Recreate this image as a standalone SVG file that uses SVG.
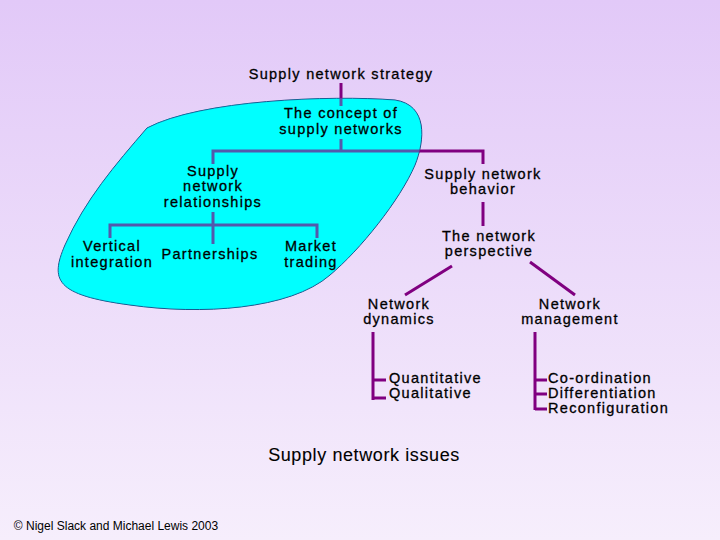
<svg xmlns="http://www.w3.org/2000/svg" width="720" height="540" viewBox="0 0 720 540">
<defs>
<linearGradient id="bg" x1="0" y1="0" x2="0" y2="1"><stop offset="0" stop-color="#e2c9f8"/><stop offset="1" stop-color="#f6eefc"/></linearGradient>
<path id="blobp" d="M147,128 C200,100 330,95 395,100 C428,105 425,140 415,165 C400,200 360,250 330,275 C290,310 200,315 130,305 C55,295 50,280 65,245 C85,200 115,165 147,128 Z"/>
</defs>
<style>
text{font-family:"Liberation Sans",Arial,sans-serif;font-size:14.5px;fill:#000;text-anchor:middle;letter-spacing:1.3px;stroke:#000;stroke-width:0.3}
.l{text-anchor:start}
line,path.c{stroke:#800080;stroke-width:3;fill:none}
</style>
<rect width="720" height="540" fill="url(#bg)"/>
<use id="blob" href="#blobp" fill="#00ffff" stroke="#1a3a7a" stroke-width="1"/>
<g id="connectors">
<line x1="341" y1="83" x2="341" y2="106"/>
<line x1="341" y1="139" x2="341" y2="152"/>
<path class="c" d="M213,164 V151 H483 V164"/>
<line x1="483" y1="202" x2="483" y2="226"/>
<line x1="213" y1="212" x2="213" y2="244"/>
<path class="c" d="M110,238 V225 H317 V238"/>
<line x1="452" y1="266" x2="405" y2="295"/>
<line x1="530" y1="262" x2="575" y2="295"/>
<path class="c" d="M373,332 V400 M373,380 H386 M373,398 H386"/>
<path class="c" d="M535,332 V410 M535,380 H547 M535,394 H547 M535,409 H547"/>
</g>
<use href="#blobp" fill="#00ffff" fill-opacity="0.35"/>
<g id="strategy"><text x="341" y="79">Supply network strategy</text></g>
<g id="concept"><text x="341" y="118">The concept of</text><text x="341" y="134">supply  networks</text></g>
<g id="relationships"><text x="213" y="176">Supply</text><text x="213" y="191">network</text><text x="213" y="207">relationships</text></g>
<g id="behavior"><text x="483" y="179">Supply network</text><text x="483" y="194">behavior</text></g>
<g id="vertical"><text x="112" y="251">Vertical</text><text x="112" y="267">integration</text></g>
<g id="partnerships"><text x="210" y="259">Partnerships</text></g>
<g id="market"><text x="311" y="251">Market</text><text x="311" y="267">trading</text></g>
<g id="perspective"><text x="489" y="241">The network</text><text x="489" y="256">perspective</text></g>
<g id="dynamics"><text x="399" y="309">Network</text><text x="399" y="324">dynamics</text></g>
<g id="management"><text x="570" y="309">Network</text><text x="570" y="324">management</text></g>
<g id="dyn-items"><text class="l" x="389" y="383">Quantitative</text><text class="l" x="389" y="398">Qualitative</text></g>
<g id="mgmt-items"><text class="l" x="548" y="383">Co-ordination</text><text class="l" x="548" y="398">Differentiation</text><text class="l" x="548" y="413">Reconfiguration</text></g>
<text x="364" y="461" style="font-size:18px;letter-spacing:0.6px;stroke-width:0.1">Supply network issues</text>
<text x="116" y="530" style="font-size:12px;letter-spacing:0;stroke-width:0">© Nigel Slack and Michael Lewis 2003</text>
</svg>
